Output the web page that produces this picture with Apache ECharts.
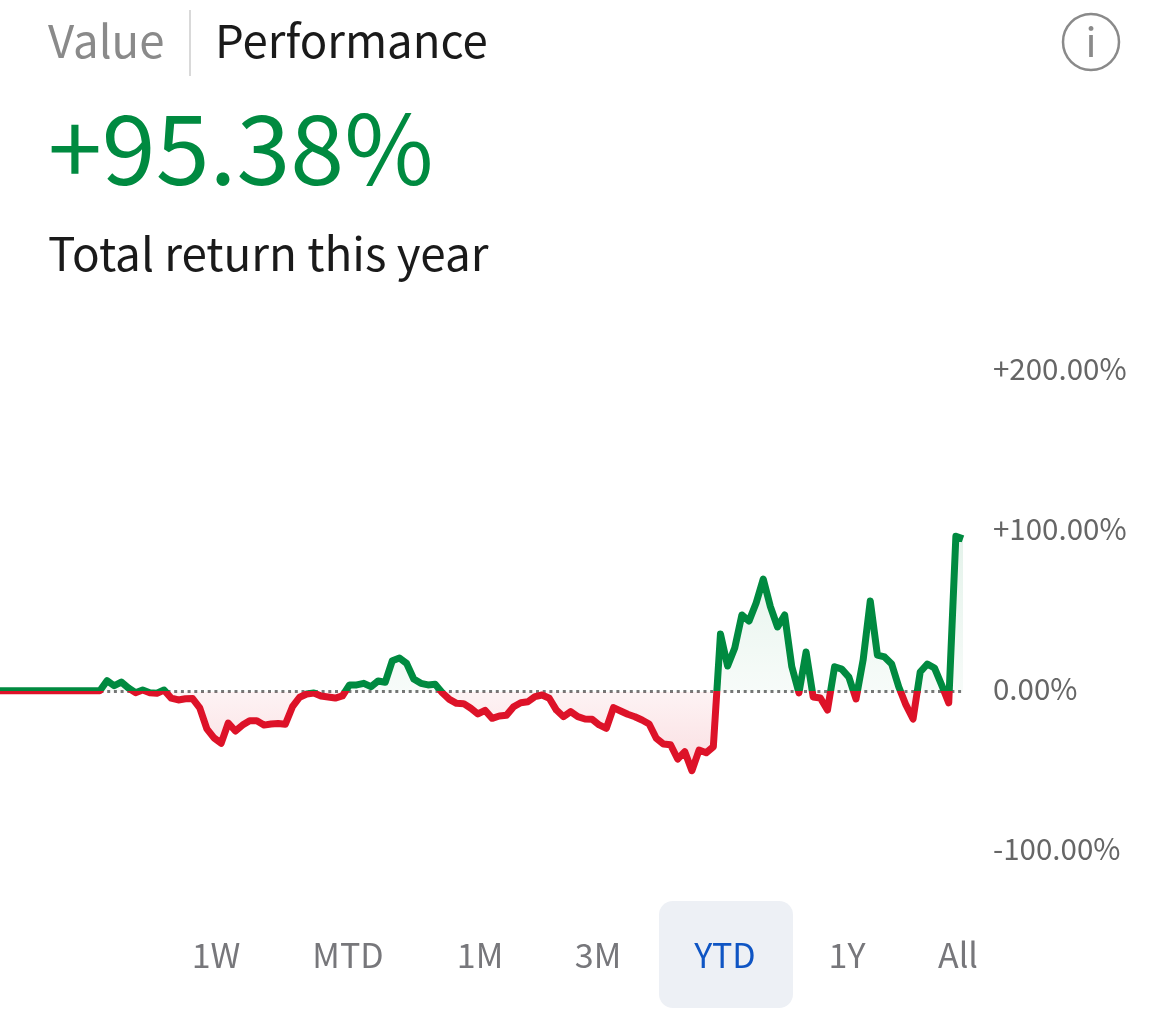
<!DOCTYPE html>
<html>
<head>
<meta charset="utf-8">
<title>Performance</title>
<style>
html, body { margin: 0; padding: 0; background: #fff; }
#chart { width: 1170px; height: 1029px; }
</style>
<script src="https://cdn.jsdelivr.net/npm/echarts@6/dist/echarts.min.js"></script>
</head>
<body>
<div id="chart"></div>
<script>
// total return in %
const returns = [
  0.5, 0.5, 0.5, 0.5, 0.5, 0.5, 0.5, 0.5, 0.5, 0.5, 0.5, 0.5, 0.5, 0.5, 0.5,
  6.75, 3.6, 5.9, 2.2, -0.75, 0.9, -0.75, -1.1, 0.9, -4.1, -5.3, -4.5, -4.4, -10.3, -23.4,
  -29, -32.4, -19.7, -24.7, -21, -18.3, -18.3, -21, -20.3, -20, -20.5, -9.5, -3.6, -1.6, -0.9,
  -2.8, -3.4, -4.1, -2.8, 4.1, 4.1, 5.1, 3, 6.6, 5.75, 19.25, 20.9, 17.6, 7.8, 5.1,
  4.1, 4.5, -0.75, -4.9, -7.4, -7.6, -10.5, -14, -11.75, -16.75, -15.3, -14.9, -9.5, -7, -6.4,
  -3.25, -2.2, -4.25, -11.6, -15.75, -12.6, -15.75, -17.2, -17.4, -20.9, -23, -10.1, -12.2, -14.25, -15.75,
  -17.8, -20.3, -29.25, -32.8, -33.25, -42.2, -37.6, -49.5, -36.6, -38.25, -34.5,
  35.9, 15.9, 27.2, 47.8, 44, 55.3, 70.3, 53, 40.3, 47.8, 15.5, -0.9, 24.7, -3.4, -4.1,
  -11.6, 15.5, 14, 9, -4.7, 19.7, 56.6, 22.8, 21.6, 17.2, 2.8, -8.4, -17.2, 12.2, 17.2,
  14.7, 4.1, -7.1, 97, 95.38
];
const days = returns.map((v, i) => i);
const tabs = ['1W', 'MTD', '1M', '3M', 'YTD', '1Y', 'All'];
const tabCenters = [216, 348, 480, 598, 725, 847, 958];

const GREEN = '#008a40';
const RED = '#dd1228';
const FONT = '"Noto Sans CJK SC", "Noto Sans", sans-serif';

function label(text, x, y, size, fill, align) {
  return {
    type: 'text',
    style: { x: x, y: y, text: text, fill: fill, font: size + 'px ' + FONT, textAlign: align || 'left', textVerticalAlign: 'middle' }
  };
}

const graphics = [
  label('Value', 48, 41, 45.5, '#8a8a8a'),
  { type: 'rect', shape: { x: 189, y: 10, width: 2, height: 66 }, style: { fill: '#d9d9d9' } },
  label('Performance', 215, 41, 45.5, '#1a1a1a'),
  { type: 'circle', shape: { cx: 1091, cy: 42, r: 28 }, style: { fill: 'none', stroke: '#8a8a8a', lineWidth: 2.5 } },
  label('i', 1091, 42, 40, '#8a8a8a', 'center'),
  label('+95.38%', 48, 148, 97, GREEN),
  label('Total return this year', 48, 254, 45.8, '#1a1a1a'),
  { type: 'rect', shape: { x: 659, y: 901, width: 134, height: 107, r: 14 }, style: { fill: '#edf0f5' } }
];
tabs.forEach((t, i) => {
  graphics.push(label(t, tabCenters[i], 955, 34, t === 'YTD' ? '#0f55c4' : '#77777b', 'center'));
});

const chart = echarts.init(document.getElementById('chart'));
chart.setOption({
  animation: false,
  backgroundColor: '#fff',
  textStyle: { fontFamily: FONT },
  grid: { left: 0, right: 207, top: 371.5, height: 480 },
  xAxis: {
    type: 'category',
    data: days,
    boundaryGap: false,
    axisLine: { onZero: true, lineStyle: { color: '#777', width: 3, type: [3, 3.7], cap: 'butt' } },
    axisTick: { show: false },
    axisLabel: { show: false }
  },
  yAxis: {
    type: 'value',
    position: 'right',
    min: -100,
    max: 200,
    interval: 100,
    splitLine: { show: false },
    axisLine: { show: false },
    axisTick: { show: false },
    axisLabel: {
      margin: 30,
      align: 'left',
      verticalAlign: 'bottom',
      lineHeight: 6,
      fontSize: 29.5,
      color: '#666',
      formatter: v => (v > 0 ? '+' : '') + v.toFixed(2) + '%'
    }
  },
  visualMap: {
    show: false,
    type: 'piecewise',
    dimension: 1,
    seriesIndex: 0,
    pieces: [
      { min: -100, max: 0, color: RED },
      { min: 0, max: 200, color: GREEN }
    ]
  },
  series: [{
    type: 'line',
    data: returns,
    symbol: 'none',
    z: 3,
    lineStyle: { width: 7, join: 'round' },
    areaStyle: {
      opacity: 1,
      color: {
        type: 'linear', global: true, x: 0, y: 534, x2: 0, y2: 771,
        colorStops: [
          { offset: 0, color: 'rgba(0,138,64,0.11)' },
          { offset: 0.665, color: 'rgba(0,138,64,0.03)' },
          { offset: 0.665, color: 'rgba(221,18,40,0.05)' },
          { offset: 1, color: 'rgba(221,18,40,0.14)' }
        ]
      }
    }
  }],
  graphic: graphics
});
</script>
</body>
</html>
